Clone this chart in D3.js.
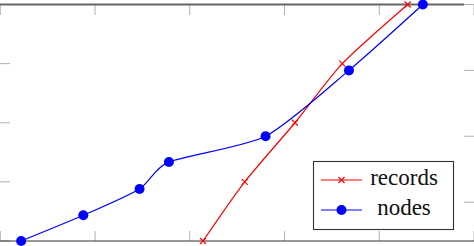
<!DOCTYPE html>
<html>
<head>
<meta charset="utf-8">
<script src="https://cdn.jsdelivr.net/npm/d3@7"></script>
<style>
  body { margin: 0; background: #fff; }
  svg { display: block; }
</style>
</head>
<body>
<script>
// data
var xTicks = [0, 1, 2, 3, 4, 5];
var leftTicks = [0, 1, 2, 3, 4];
var rightTicks = [1, 2, 3, 4];

var recordsX = [2.14, 2.58, 3.11, 3.61, 4.30];
var recordsY = [0, 1, 2, 3, 4];

var nodesX = [0.22, 0.876, 1.47, 1.78, 2.80, 3.68, 4.46];
var nodesY = [0.41, 0.80, 1.20, 1.61, 2, 3, 4];

var legendNames = ["records", "nodes"];

var width = 474, height = 246;

var svg = d3.select("body").append("svg")
  .attr("width", width)
  .attr("height", height);

var x = d3.scaleLinear().domain([0, 5]).range([0.3, 474]);
var yLeft = d3.scaleLinear().domain([0, 4]).range([241, 4.5]);
var yRight = d3.scaleLinear().domain([0.41, 4]).range([241, 4.5]);

// tick marks (light gray, pointing inward)
var tickCol = "#b0b0b0";
var ticks = svg.append("g").attr("stroke", tickCol).attr("stroke-width", 1);

xTicks.forEach(function(t) {
  ticks.append("line")
    .attr("x1", x(t)).attr("x2", x(t))
    .attr("y1", 5).attr("y2", 15);
  ticks.append("line")
    .attr("x1", x(t)).attr("x2", x(t))
    .attr("y1", 241).attr("y2", 231);
});

leftTicks.forEach(function(t) {
  ticks.append("line")
    .attr("x1", 0).attr("x2", 10)
    .attr("y1", yLeft(t)).attr("y2", yLeft(t));
});

rightTicks.forEach(function(t) {
  ticks.append("line")
    .attr("x1", 464).attr("x2", 474)
    .attr("y1", yRight(t)).attr("y2", yRight(t));
});

// axis lines
svg.append("line")
  .attr("x1", 0).attr("x2", 464)
  .attr("y1", 4.5).attr("y2", 4.5)
  .attr("stroke", "#666").attr("stroke-width", 2);

svg.append("line")
  .attr("x1", 0).attr("x2", 474)
  .attr("y1", 241).attr("y2", 241)
  .attr("stroke", "#333").attr("stroke-width", 1.2);

var curve = d3.curveCardinal.tension(0.3);

// records
var records = recordsX.map(function(d, i) { return [d, recordsY[i]]; });
svg.append("path")
  .datum(records)
  .attr("fill", "none")
  .attr("stroke", "#ff0000")
  .attr("stroke-width", 1.2)
  .attr("d", d3.line()
    .x(function(d) { return x(d[0]); })
    .y(function(d) { return yLeft(d[1]); })
    .curve(curve));

function cross(g, cx, cy, s) {
  g.append("path")
    .attr("d", "M" + (cx - s) + "," + (cy - s) + "L" + (cx + s) + "," + (cy + s) +
               "M" + (cx - s) + "," + (cy + s) + "L" + (cx + s) + "," + (cy - s))
    .attr("stroke", "#ff0000")
    .attr("stroke-width", 1.1)
    .attr("fill", "none");
}

var recMarks = svg.append("g");
records.forEach(function(d) {
  cross(recMarks, x(d[0]), yLeft(d[1]), 3);
});

// nodes
var nodes = nodesX.map(function(d, i) { return [d, nodesY[i]]; });
svg.append("path")
  .datum(nodes)
  .attr("fill", "none")
  .attr("stroke", "#0000ff")
  .attr("stroke-width", 1.2)
  .attr("d", d3.line()
    .x(function(d) { return x(d[0]); })
    .y(function(d) { return yRight(d[1]); })
    .curve(curve));

svg.append("g").selectAll("circle")
  .data(nodes)
  .enter()
    .append("circle")
      .attr("cx", function(d) { return x(d[0]); })
      .attr("cy", function(d) { return yRight(d[1]); })
      .attr("r", 5)
      .attr("fill", "#0000ff");

// legend
var legend = svg.append("g");
legend.append("rect")
  .attr("x", 313.5).attr("y", 161.5)
  .attr("width", 140).attr("height", 68)
  .attr("fill", "#fff")
  .attr("stroke", "#333")
  .attr("stroke-width", 1.1);

var rowY = [180, 210];
var colours = ["#ff0000", "#0000ff"];

legendNames.forEach(function(name, i) {
  legend.append("line")
    .attr("x1", 321).attr("x2", 362)
    .attr("y1", rowY[i]).attr("y2", rowY[i])
    .attr("stroke", colours[i])
    .attr("stroke-width", 1.2);

  if (i == 0) {
    cross(legend, 341.5, rowY[i], 3);
  } else {
    legend.append("circle")
      .attr("cx", 341.5).attr("cy", rowY[i])
      .attr("r", 5)
      .attr("fill", "#0000ff");
  }

  legend.append("text")
    .attr("x", 404)
    .attr("y", rowY[i] + 5)
    .attr("text-anchor", "middle")
    .style("font-family", "'Liberation Serif'")
    .style("font-size", "23px")
    .attr("fill", "#111")
    .text(name);
});
</script>
</body>
</html>
